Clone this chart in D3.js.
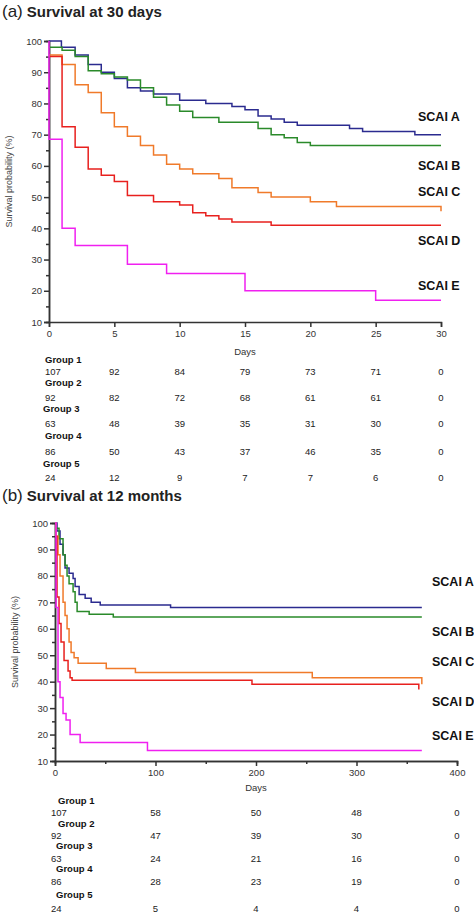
<!DOCTYPE html>
<html><head><meta charset="utf-8">
<script src="https://cdn.jsdelivr.net/npm/d3@7"></script>
<style>body{margin:0;background:#fff}svg{font-family:"Liberation Sans",Arial,sans-serif}</style>
</head><body><svg id="c" width="474" height="913"></svg>
<script>
const groups = ["SCAI A","SCAI B","SCAI C","SCAI D","SCAI E"];
const colors = ["#2b2b8f","#2a8a2a","#f07a2a","#e8201e","#f020f0"];
// Panel A: [day, survival%]
const a_A = [[0,100],[0.95,98],[2,95.5],[3,92.5],[4,90],[5,88],[6,85],[7,84],[8,83],[10,81],[12,80],[14,79],[15,78],[16,76],[17,75],[18,74],[19,73],[23,72],[24,71],[28,70],[30,70]];
const a_B = [[0,98],[1,97],[2,95],[3,90.5],[4,89.5],[5,88.5],[6,87.5],[7,85],[8,82],[9,79.5],[10,77.5],[11,75.5],[13,74],[16,72],[17,70],[18,69],[19,67.5],[20,66.5],[30,66.5]];
const a_C = [[0,95.5],[1,92.5],[2,86],[3,83.5],[4,77],[5,72.5],[6,69.5],[7,66.5],[8,63.5],[9,60.5],[10,59],[11,57.5],[13,56],[14,53],[16,51.5],[17,50],[20,48.5],[22,47],[30,47],[30,45.5]];
const a_D = [[0,95],[1,72.5],[2,66],[3,59],[4,57],[5,55],[6,50.5],[8,48.5],[10,47.5],[11,45],[12,44],[13,43],[14,42],[17,41],[30,41]];
const a_E = [[0,100],[0,68.5],[1,40],[2,34.5],[6,28.5],[9,25.5],[15,20],[25,17],[30,17]];
// Panel B
const b_A = [[0,100],[2,97],[5,92],[8,88],[10,83],[14,81],[18,79],[20,76],[24,73],[30,71.5],[36,70],[45,69],[115,68],[365,68]];
const b_B = [[0,98],[4,94],[8,88],[10,84],[12,80],[14,77],[18,74],[20,70],[22,66.5],[34,65.5],[58,64.5],[365,64.5]];
const b_C = [[0,100],[1,95],[3,88],[5,80],[8,70],[10,65],[12,60],[14,55],[16,51],[19,49],[23,47],[51,45],[80,43.5],[256,41.5],[365,41.5],[365,39]];
const b_D = [[0,95],[0.5,95],[2,72],[4,62],[6,55],[9,48],[13,44],[15,41.5],[17,40.5],[196,39],[362,37]];
const b_E = [[0,100],[1,68],[3,40],[5,34],[8,28],[11,25.5],[15,20],[25,17],[92,14],[365,14]];
const aTicks = [0,5,10,15,20,25,30];
const bTicks = [0,100,200,300,400];
const aRisk = [[107,92,84,79,73,71,0],[92,82,72,68,61,61,0],[63,48,39,35,31,30,0],[86,50,43,37,46,35,0],[24,12,9,7,7,6,0]];
const bRisk = [[107,58,50,48,0],[92,47,39,30,0],[63,24,21,16,0],[86,28,23,19,0],[24,5,4,4,0]];

const svg = d3.select("#c");
function panel(o){
  const x = d3.scaleLinear().domain(o.xd).range(o.xr);
  const y = d3.scaleLinear().domain([10,100]).range(o.yr);
  const g = svg.append("g");
  g.append("text").attr("x",2).attr("y",o.ty).attr("font-size",17).attr("fill","#222").text(o.tag)
    .append("tspan").attr("font-weight","bold").attr("font-size",15).attr("dx",4).text(o.title);
  const ya = g.append("g").attr("transform",`translate(${o.xr[0]},0)`)
    .call(d3.axisLeft(y).tickValues(d3.range(10,101,10)).tickSize(5).tickPadding(2));
  g.append("g").attr("transform",`translate(${o.xr[0]},0)`)
    .call(d3.axisLeft(y).tickValues(d3.range(15,100,10)).tickSize(3).tickFormat(""));
  const xa = g.append("g").attr("transform",`translate(0,${o.yr[0]})`)
    .call(d3.axisBottom(x).tickValues(o.ticks).tickSize(5).tickPadding(3));
  if(o.minor) g.append("g").attr("transform",`translate(0,${o.yr[0]})`)
    .call(d3.axisBottom(x).tickValues(o.minor).tickSize(3).tickFormat(""));
  g.selectAll(".domain,.tick line").attr("stroke","#333").attr("stroke-width",1.5);
  g.selectAll(".tick text").attr("font-size",9.5).attr("fill","#333").attr("font-family","Liberation Sans,Arial");
  g.append("text").attr("transform",`translate(${o.xr[0]-37},${(o.yr[0]+o.yr[1])/2}) rotate(-90)`)
    .attr("text-anchor","middle").attr("font-size",9).attr("fill","#444").text("Survival probability (%)");
  g.append("text").attr("x",(o.xr[0]+o.xr[1])/2+o.daysDx).attr("y",o.daysY).attr("text-anchor","middle")
    .attr("font-size",9.5).attr("fill","#333").text("Days");
  const line = d3.line().x(d=>x(d[0])).y(d=>y(d[1])).curve(d3.curveStepAfter);
  o.series.forEach((s,i)=>{
    g.append("path").attr("d",line(s)).attr("fill","none").attr("stroke",colors[i]).attr("stroke-width",1.5);
    g.append("text").attr("x",o.labX).attr("y",o.labY[i]).attr("font-weight","bold").attr("font-size",12.5)
      .attr("fill","#111").text(groups[i]);
  });
  o.risk.forEach((row,i)=>{
    g.append("text").attr("x",o.gx[i]).attr("y",o.gy[i]).attr("font-weight","bold").attr("font-size",9.5).attr("fill","#111").text("Group "+(i+1));
    row.forEach((v,j)=>{
      g.append("text").attr("x",j===0?o.xr[0]-4:x(o.ticks[j])).attr("y",o.ny[i])
        .attr("text-anchor",j===0?"start":"middle").attr("font-size",9.5).attr("fill","#222").text(v);
    });
  });
}
panel({xd:[0,30],xr:[49,441],yr:[322,41],ty:17,tag:"(a)",title:"Survival at 30 days",ticks:aTicks,
  series:[a_A,a_B,a_C,a_D,a_E],labX:418,labY:[121,140+30,196,245,260+30],daysY:355,daysDx:0,
  risk:aRisk,gx:[45,45,43,45,43],gy:[363,386,412,439,467],ny:[375,401,427,455,481]});
panel({xd:[0,400],xr:[55,457],yr:[761,523],ty:501,tag:"(b)",title:"Survival at 12 months",ticks:bTicks,
  minor:[50,150,250,350],series:[b_A,b_B,b_C,b_D,b_E],labX:432,labY:[586,636,666,706,740],daysY:791,daysDx:0,
  risk:bRisk,gx:[58,58,56,56,56],gy:[804,827,849,872,898],ny:[816,839,862,885,912]});
</script></body></html>
